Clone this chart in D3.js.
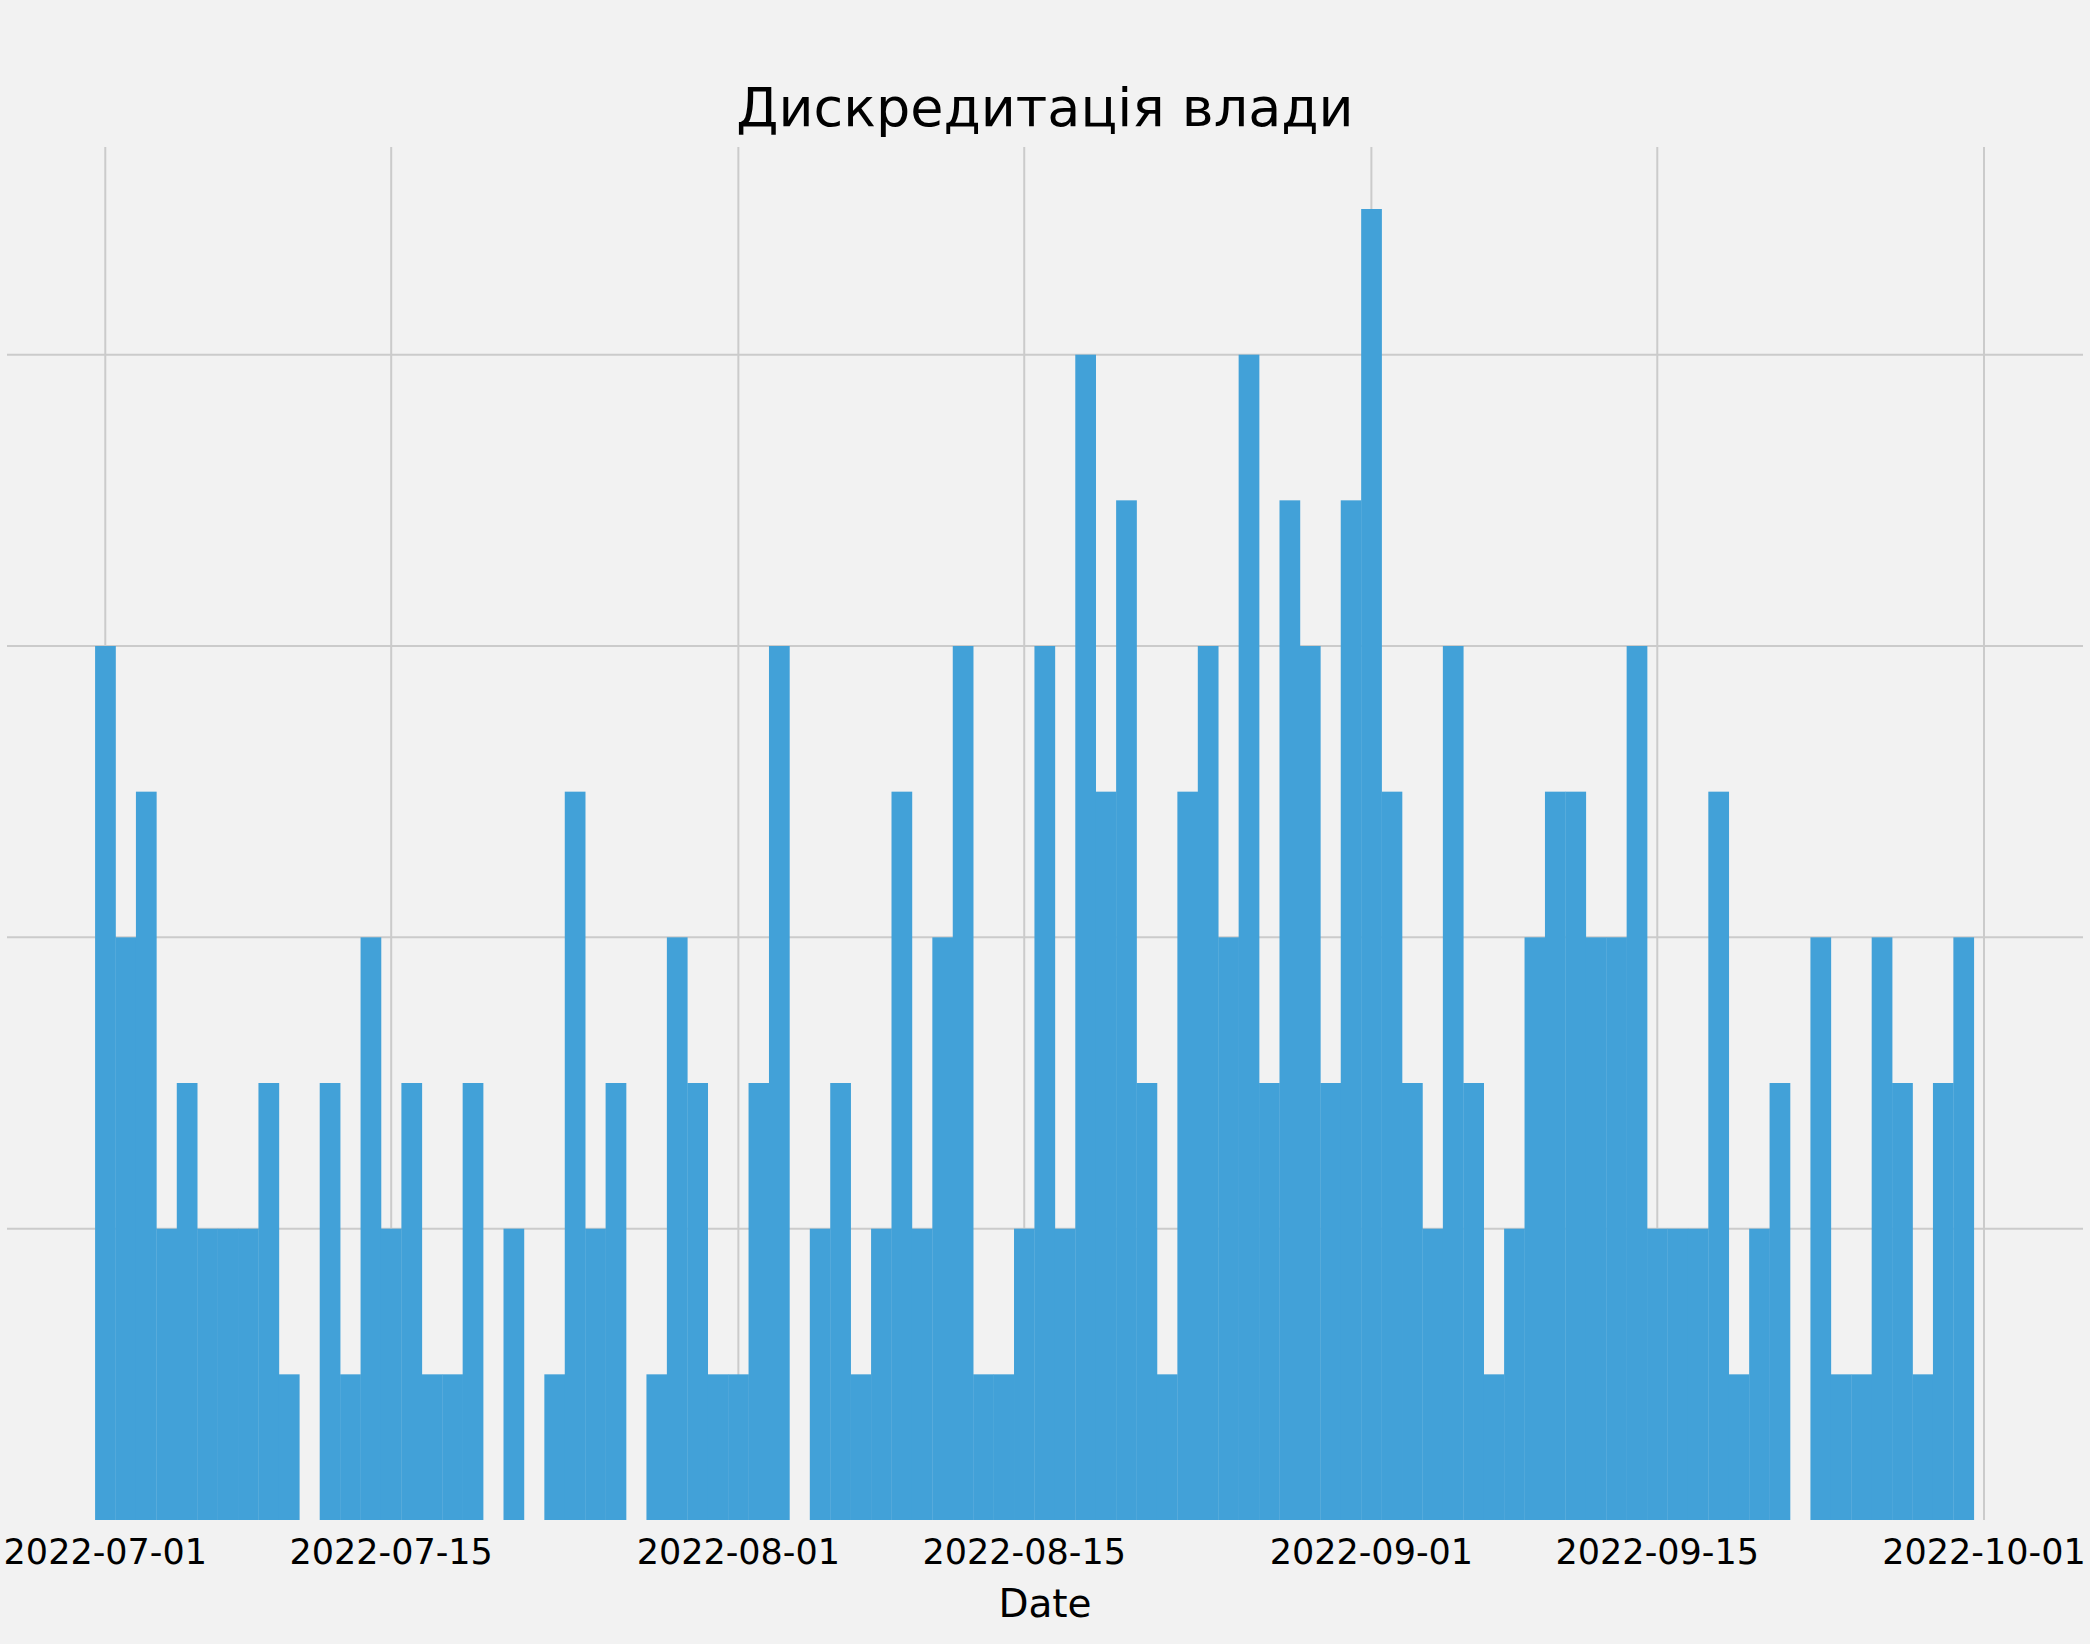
<!DOCTYPE html>
<html>
<head>
<meta charset="utf-8">
<script src="https://cdn.jsdelivr.net/npm/d3@7"></script>
<style>
  body { margin: 0; background: #f2f2f2; }
  text { font-family: "DejaVu Sans", sans-serif; }
</style>
</head>
<body>
<svg id="chart" width="2090" height="1644"></svg>
<script>
// daily counts, 2022-07-01 .. 2022-09-30
const startDate = "2022-07-01";
const counts = [
  6,4,5,2,3,2,2,2,3,1, 0,3,1,4,2,3,1,1,3,0,
  2,0,1,5,2,3,0,1,4,3, 1,1,3,6,0,2,3,1,2,5,
  2,4,6,1,1,2,6,2,8,5, 7,3,1,5,6,4,8,3,7,6,
  3,7,9,5,3,2,6,3,1,2, 4,5,5,4,4,6,2,2,2,5,
  1,2,3,0,4,1,1,4,3,1, 3,4
];
const tickDates = ["2022-07-01", "2022-07-15", "2022-08-01", "2022-08-15", "2022-09-01", "2022-09-15", "2022-10-01"];
const yGrid = [2, 4, 6, 8];

const parse = d3.utcParse("%Y-%m-%d");
const day = 864e5;
const t0 = parse(startDate);
const bars = counts.map((c, i) => ({ date: new Date(+t0 + i * day), count: c }));

const svg = d3.select("#chart");
svg.append("rect").attr("width", 2090).attr("height", 1644).attr("fill", "#f2f2f2");

const x = d3.scaleUtc()
    .domain([parse("2022-07-01"), parse("2022-10-01")])
    .range([105.3, 1984]);
const y = d3.scaleLinear().domain([0, 9]).range([1520, 209]);

// gridlines
svg.append("g").selectAll("line").data(yGrid).enter().append("line")
    .attr("x1", 7).attr("x2", 2083)
    .attr("y1", d => y(d)).attr("y2", d => y(d))
    .attr("stroke", "#cbcbcb").attr("stroke-width", 2);

svg.append("g").selectAll("line").data(tickDates).enter().append("line")
    .attr("x1", d => x(parse(d))).attr("x2", d => x(parse(d)))
    .attr("y1", 147).attr("y2", 1520)
    .attr("stroke", "#cbcbcb").attr("stroke-width", 2);

// bars centered on each day
const half = (x(new Date(+t0 + day)) - x(t0)) / 2;
svg.append("g").selectAll("rect").data(bars).enter().append("rect")
    .attr("x", d => x(d.date) - half)
    .attr("width", half * 2 + 0.3)
    .attr("y", d => y(d.count))
    .attr("height", d => y(0) - y(d.count))
    .attr("fill", "#42a1d8");

// tick labels
svg.append("g").selectAll("text").data(tickDates).enter().append("text")
    .attr("x", d => x(parse(d)))
    .attr("y", 1564)
    .attr("text-anchor", "middle")
    .attr("font-size", "35px")
    .attr("fill", "#000")
    .text(d => d);

svg.append("text")
    .attr("x", 1045).attr("y", 1617)
    .attr("text-anchor", "middle")
    .attr("font-size", "39px")
    .text("Date");

svg.append("text")
    .attr("x", 1045).attr("y", 126)
    .attr("text-anchor", "middle")
    .attr("font-size", "54px")
    .text("Дискредитація влади");
</script>
</body>
</html>
